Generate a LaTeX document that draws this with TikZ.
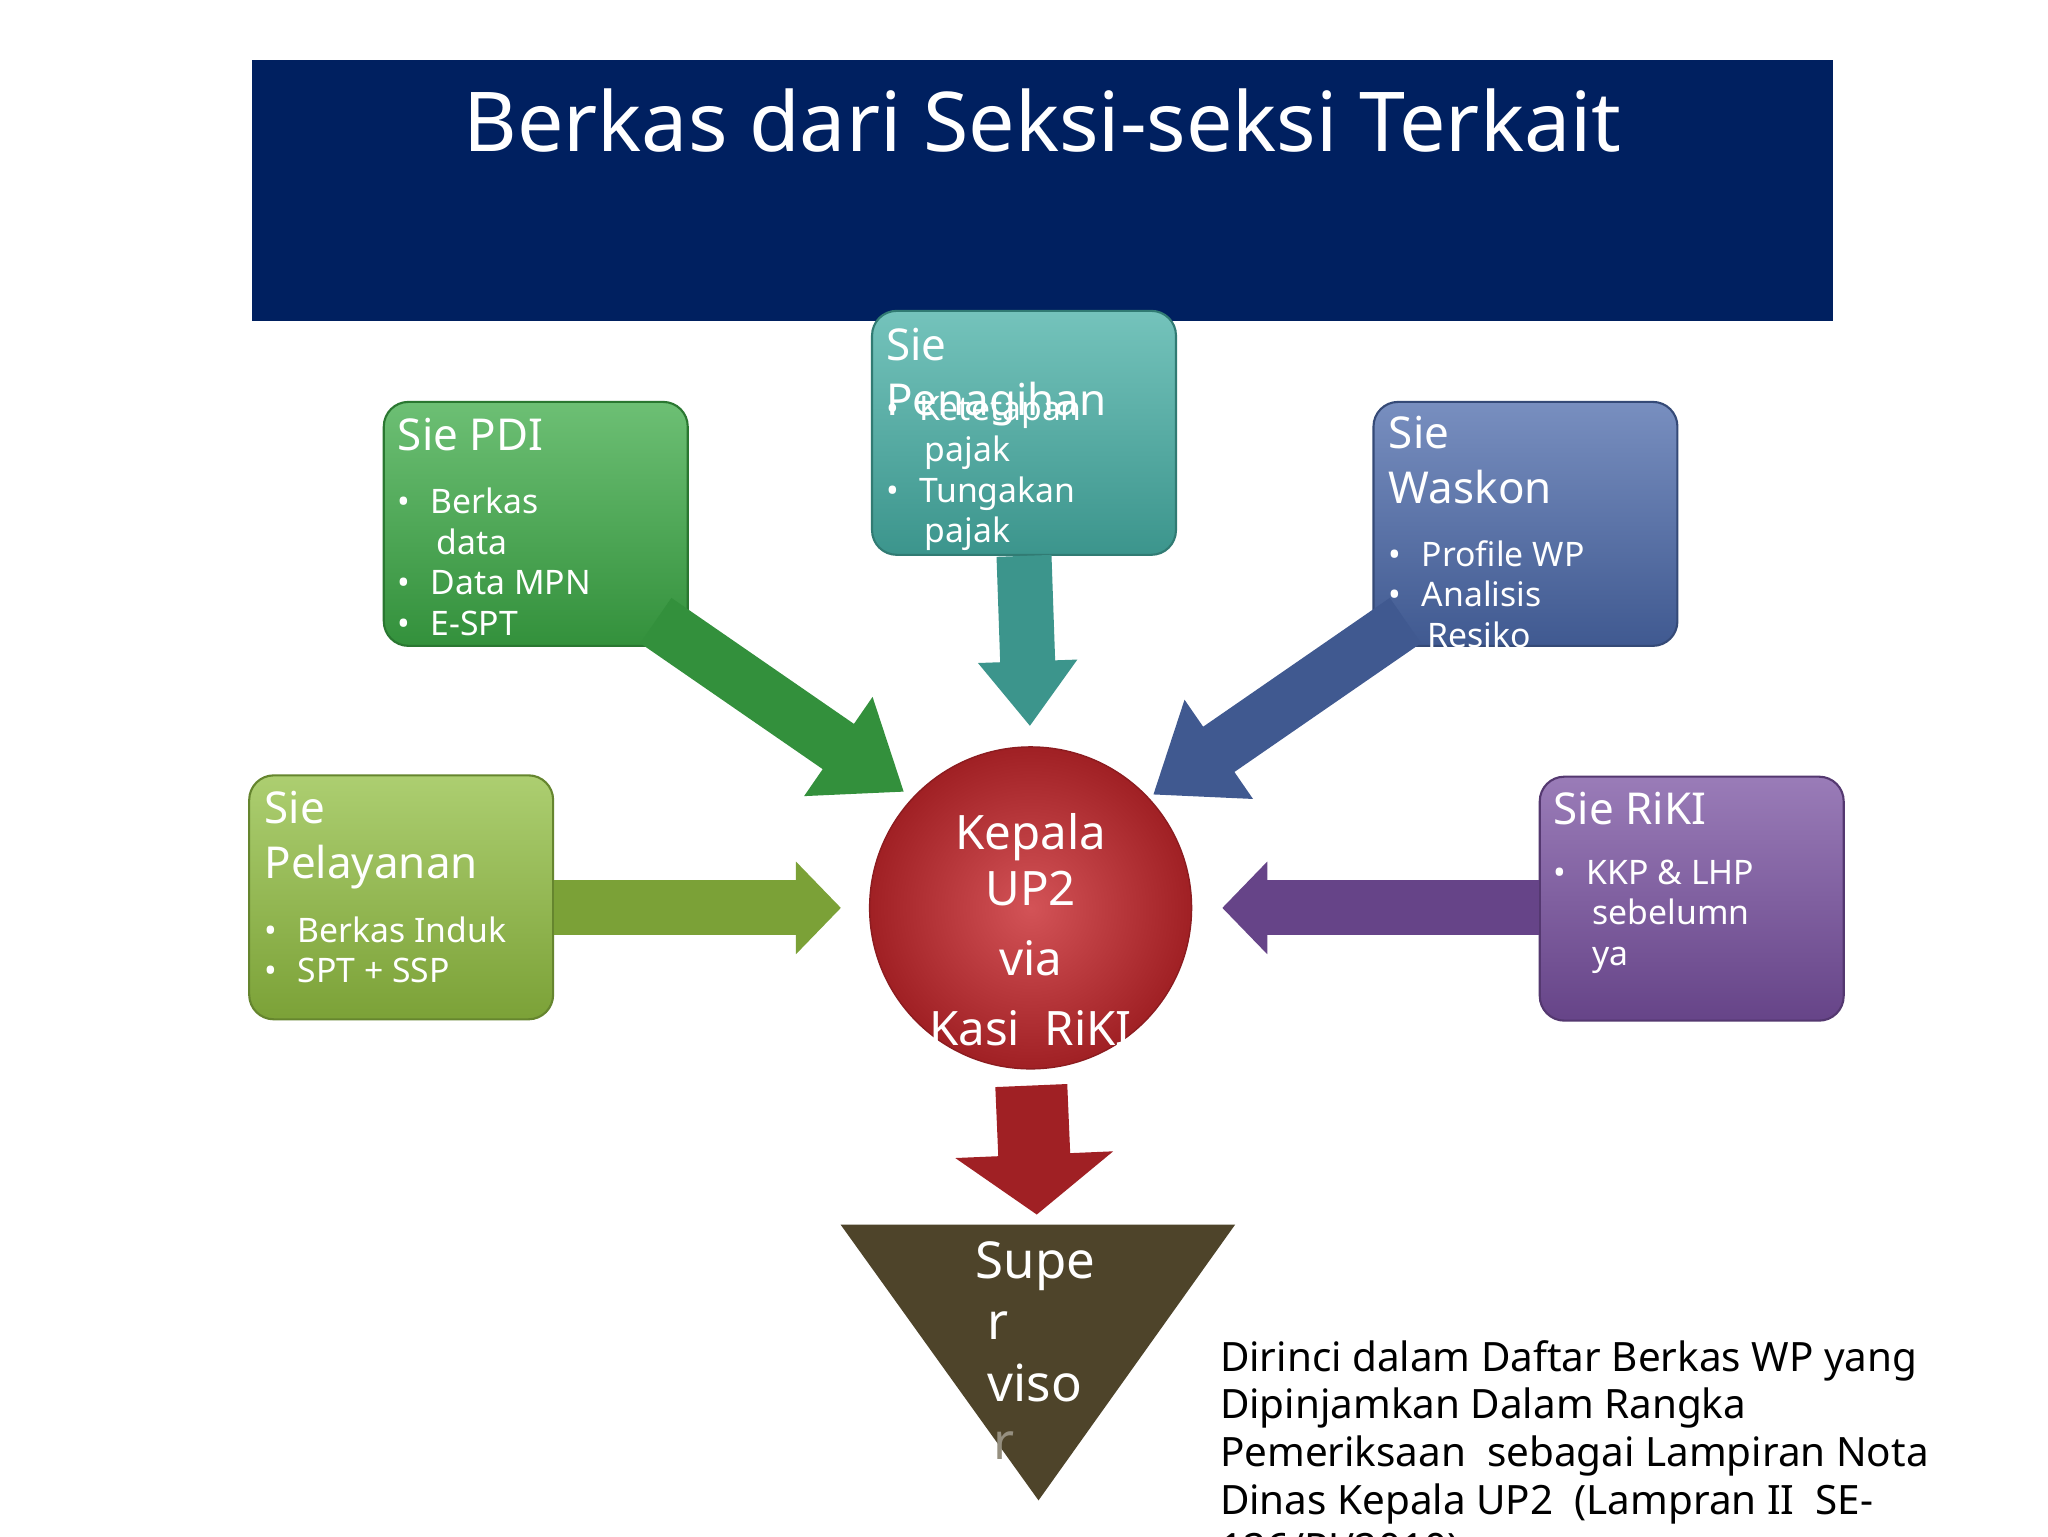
\documentclass[tikz,border=0pt]{standalone}
\usepackage{fontspec}
\setmainfont{Noto Sans}
\usetikzlibrary{arrows.meta,calc}
\definecolor{navy}{RGB}{0,32,96}
\definecolor{cpdi}{RGB}{60,170,70}
\definecolor{cpen}{RGB}{70,175,165}
\definecolor{cwas}{RGB}{75,105,170}
\definecolor{cpel}{RGB}{145,190,65}
\definecolor{criki}{RGB}{120,80,160}
\definecolor{cred}{RGB}{200,40,45}
\definecolor{colive}{RGB}{78,68,42}
\tikzset{
  sbox/.style={rounded corners=7pt, minimum width=3.04cm, minimum height=2.44cm, draw=#1!70!black, line width=0.6pt, top color=#1!75!white, bottom color=#1!85!black},
  ttl/.style={anchor=north west, text=white, font=\fontsize{12.5}{15.7}\selectfont, align=left, inner sep=0pt},
  bul/.style={anchor=north west, text=white, font=\fontsize{9.6}{11.6}\selectfont, align=left, inner sep=0pt},
}
\begin{document}
\begin{tikzpicture}[x=0.0132cm,y=-0.0132cm]
\useasboundingbox (0,0) rectangle (1552,1164);
\fill[white] (0,0) rectangle (1552,1164);
% title
\node[fill=navy, minimum width=15.81cm, minimum height=2.61cm, inner sep=0pt, outer sep=0pt] (title) at (790,144) {};
\node[text=white, font=\fontsize{23.5}{28}\selectfont, anchor=base] (tt) at (790,115) {Berkas dari Seksi-seksi Terkait};
% boxes
\node[sbox=cpdi] (pdi) at (406,397) {};
\node[sbox=cpen] (pen) at (776,328) {};
\node[sbox=cwas] (was) at (1156,397) {};
\node[sbox=cpel] (pel) at (304,680) {};
\node[sbox=criki] (riki) at (1282,681) {};
% circle
\node[circle, minimum size=3.22cm, draw=cred!70!black, inner color=cred!80!white, outer color=cred!80!black] (kep) at (781,688) {};
% arrows
\draw[line width=0.55cm, draw=cpdi!85!black, -{Triangle[width=1.15cm,length=0.8cm]}, shorten >=0.1cm] ($(pdi.south east)+(-25,-20)$) -- (kep.137);
\draw[line width=0.55cm, draw=cpen!85!black, -{Triangle[width=0.95cm,length=0.65cm]}, shorten >=0.2cm] (pen.south) -- (kep.north);
\draw[line width=0.55cm, draw=cwas!85!black, -{Triangle[width=1.15cm,length=0.8cm]}, shorten >=0.05cm] ($(was.south west)+(25,-20)$) -- (kep.43);
\draw[line width=0.55cm, draw=cpel!85!black, -{Triangle[width=0.9cm,length=0.45cm]}, shorten >=0.28cm] (pel.east |- kep.west) -- (kep.west);
\draw[line width=0.55cm, draw=criki!85!black, -{Triangle[width=0.9cm,length=0.45cm]}, shorten >=0.3cm] (riki.west |- kep.east) -- (kep.east);
% triangle
\fill[colive] (637,928) -- (936,928) -- (787,1137) -- cycle;
\coordinate (sup) at (786,928);
\draw[line width=0.72cm, draw=cred!80!black, -{Triangle[width=1.55cm,length=0.6cm]}, shorten <=0.16cm, shorten >=0.1cm] (kep.south) -- (sup);
% texts
\node[ttl] (t1) at (301,316) {Sie PDI};
\node[bul] (b1) at (301,369) {•\hspace{0.6em}Berkas\\\hspace{1.15em}data\\•\hspace{0.6em}Data MPN\\•\hspace{0.6em}E-SPT};
\node[ttl] (t2) at (671,248) {Sie\\Penagihan};
\node[bul] (b2) at (671,300) {•\hspace{0.6em}Ketetapan\\\hspace{1.15em}pajak\\•\hspace{0.6em}Tungakan\\\hspace{1.15em}pajak};
\node[ttl] (t3) at (1052,315) {Sie\\Waskon};
\node[bul] (b3) at (1052,409) {•\hspace{0.6em}Profile WP\\•\hspace{0.6em}Analisis\\\hspace{1.15em}Resiko};
\node[ttl] (t4) at (200,599) {Sie\\Pelayanan};
\node[bul] (b4) at (200,694) {•\hspace{0.6em}Berkas Induk\\•\hspace{0.6em}SPT + SSP};
\node[ttl] (t5) at (1177,600) {Sie RiKI};
\node[bul] (b5) at (1177,651) {•\hspace{0.6em}KKP \& LHP\\\hspace{1.15em}sebelumn\\\hspace{1.15em}ya};
\node[text=white, font=\fontsize{13.5}{15.6}\selectfont, anchor=base] (k1) at (781,644) {Kepala};
\node[text=white, font=\fontsize{13.5}{15.6}\selectfont, anchor=base] (k2) at (781,686) {UP2};
\node[text=white, font=\fontsize{13.5}{15.6}\selectfont, anchor=base] (k3) at (781,739) {via};
\node[text=white, font=\fontsize{13.5}{15.6}\selectfont, anchor=base] (k4) at (781,792) {Kasi\ \ RiKI};
\node[text=white, font=\fontsize{14.5}{17}\selectfont, anchor=base west, inner sep=0pt] (s1) at (739,969) {Supe};
\node[text=white, font=\fontsize{14.5}{17}\selectfont, anchor=base west, inner sep=0pt] (s2) at (748,1015) {r};
\node[text=white, font=\fontsize{14.5}{17}\selectfont, anchor=base west, inner sep=0pt] (s3) at (748,1062) {viso};
\node[text=colive!60!white, font=\fontsize{14.5}{17}\selectfont, anchor=base west, inner sep=0pt] (s4) at (752,1106) {r};
\node[anchor=north west, align=left, inner sep=0pt, font=\fontsize{11.5}{13.6}\selectfont] (note) at (924,1015) {Dirinci dalam Daftar Berkas WP yang\\Dipinjamkan Dalam Rangka\\Pemeriksaan\ \ sebagai Lampiran Nota\\Dinas Kepala UP2\ \ (Lampran II\ \ SE-\\126/PJ/2010)};
\end{tikzpicture}
\end{document}
